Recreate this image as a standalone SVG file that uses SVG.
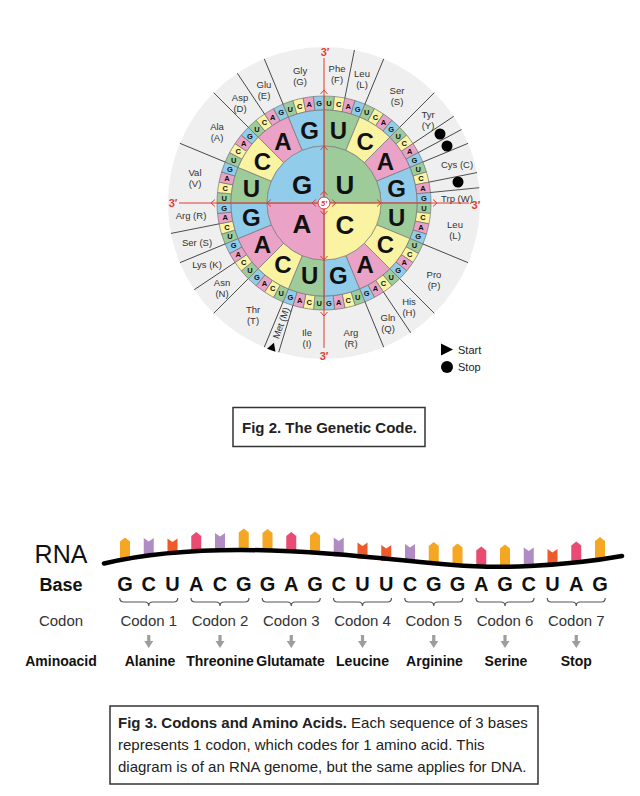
<svg xmlns="http://www.w3.org/2000/svg" width="640" height="796" viewBox="0 0 640 796">
<style>
text{font-family:"Liberation Sans",Arial,sans-serif}
.U{fill:#9dcb99}.C{fill:#faf3a2}.A{fill:#eaa3c6}.G{fill:#92cceb}
.cell{stroke:#6a6a6a;stroke-width:0.6}
.mid{stroke:#7a7a7a;stroke-width:0.7}
.sl{font-size:7.5px;font-weight:bold;fill:#111;text-anchor:middle}
.ml{font-size:24px;font-weight:bold;fill:#111;text-anchor:middle}
.il{font-size:26px;font-weight:bold;fill:#111;text-anchor:middle}
.aa{font-size:9.5px;fill:#333;text-anchor:middle}
.div{stroke:#333;stroke-width:0.8}
.red{stroke:#e23d33;stroke-width:1;fill:none}
.p3{font-size:11px;font-weight:bold;fill:#e23d33;text-anchor:middle}
.base{font-size:20px;font-weight:bold;fill:#111;text-anchor:middle}
.cod{font-size:15px;fill:#333;text-anchor:middle}
.amn{font-size:14px;font-weight:bold;fill:#111;text-anchor:middle}
.brace{fill:none;stroke:#555;stroke-width:1.2}
.arr{fill:#9d9d9d}
.box{fill:#fff;stroke:#333;stroke-width:1.5}
</style>
<defs>
<path id="sc" d="M0,-107 A107,107 0 0 1 10.488,-106.484 L9.116,-92.552 A93,93 0 0 0 0,-93 Z"/>
<path id="mc" d="M0,-93 A93,93 0 0 1 35.589,-85.921 L21.813,-52.661 A57,57 0 0 0 0,-57 Z"/>
<path id="ic" d="M0,0 L0,-57 A57,57 0 0 1 57,0 Z"/>
<path id="chev" class="red" d="M-3.5,4 L0,0 L3.5,4"/>
<line id="dl" class="div" x1="0" y1="-107" x2="0" y2="-156"/>
<path id="pG" fill="#f5a623" d="M-5,2 L-5,-17 L0,-21 L5,-17 L5,2 Z"/>
<path id="pA" fill="#e94b73" d="M-5,2 L-5,-15 L0,-19 L5,-15 L5,2 Z"/>
<path id="pC" fill="#b18bc4" d="M-5,2 L-5,-17 L0,-13.5 L5,-17 L5,2 Z"/>
<path id="pU" fill="#ee5a29" d="M-5,2 L-5,-14 L0,-10.5 L5,-14 L5,2 Z"/>
<path id="arrow" d="M-1.6,0 L1.6,0 L1.6,6 L4.5,6 L0,13 L-4.5,6 L-1.6,6 Z"/>
</defs>
<rect width="640" height="796" fill="#fff"/>

<g id="codon-wheel" transform="translate(324,203)">
<circle r="156" fill="#efefef"/>
<g id="ring-third">
<use href="#sc" class="U cell" transform="rotate(0)"/><use href="#sc" class="C cell" transform="rotate(5.625)"/><use href="#sc" class="A cell" transform="rotate(11.25)"/><use href="#sc" class="G cell" transform="rotate(16.875)"/>
<use href="#sc" class="U cell" transform="rotate(22.5)"/><use href="#sc" class="C cell" transform="rotate(28.125)"/><use href="#sc" class="A cell" transform="rotate(33.75)"/><use href="#sc" class="G cell" transform="rotate(39.375)"/>
<use href="#sc" class="U cell" transform="rotate(45)"/><use href="#sc" class="C cell" transform="rotate(50.625)"/><use href="#sc" class="A cell" transform="rotate(56.25)"/><use href="#sc" class="G cell" transform="rotate(61.875)"/>
<use href="#sc" class="U cell" transform="rotate(67.5)"/><use href="#sc" class="C cell" transform="rotate(73.125)"/><use href="#sc" class="A cell" transform="rotate(78.75)"/><use href="#sc" class="G cell" transform="rotate(84.375)"/>
<use href="#sc" class="U cell" transform="rotate(90)"/><use href="#sc" class="C cell" transform="rotate(95.625)"/><use href="#sc" class="A cell" transform="rotate(101.25)"/><use href="#sc" class="G cell" transform="rotate(106.875)"/>
<use href="#sc" class="U cell" transform="rotate(112.5)"/><use href="#sc" class="C cell" transform="rotate(118.125)"/><use href="#sc" class="A cell" transform="rotate(123.75)"/><use href="#sc" class="G cell" transform="rotate(129.375)"/>
<use href="#sc" class="U cell" transform="rotate(135)"/><use href="#sc" class="C cell" transform="rotate(140.625)"/><use href="#sc" class="A cell" transform="rotate(146.25)"/><use href="#sc" class="G cell" transform="rotate(151.875)"/>
<use href="#sc" class="U cell" transform="rotate(157.5)"/><use href="#sc" class="C cell" transform="rotate(163.125)"/><use href="#sc" class="A cell" transform="rotate(168.75)"/><use href="#sc" class="G cell" transform="rotate(174.375)"/>
<use href="#sc" class="U cell" transform="rotate(180)"/><use href="#sc" class="C cell" transform="rotate(185.625)"/><use href="#sc" class="A cell" transform="rotate(191.25)"/><use href="#sc" class="G cell" transform="rotate(196.875)"/>
<use href="#sc" class="U cell" transform="rotate(202.5)"/><use href="#sc" class="C cell" transform="rotate(208.125)"/><use href="#sc" class="A cell" transform="rotate(213.75)"/><use href="#sc" class="G cell" transform="rotate(219.375)"/>
<use href="#sc" class="U cell" transform="rotate(225)"/><use href="#sc" class="C cell" transform="rotate(230.625)"/><use href="#sc" class="A cell" transform="rotate(236.25)"/><use href="#sc" class="G cell" transform="rotate(241.875)"/>
<use href="#sc" class="U cell" transform="rotate(247.5)"/><use href="#sc" class="C cell" transform="rotate(253.125)"/><use href="#sc" class="A cell" transform="rotate(258.75)"/><use href="#sc" class="G cell" transform="rotate(264.375)"/>
<use href="#sc" class="U cell" transform="rotate(270)"/><use href="#sc" class="C cell" transform="rotate(275.625)"/><use href="#sc" class="A cell" transform="rotate(281.25)"/><use href="#sc" class="G cell" transform="rotate(286.875)"/>
<use href="#sc" class="U cell" transform="rotate(292.5)"/><use href="#sc" class="C cell" transform="rotate(298.125)"/><use href="#sc" class="A cell" transform="rotate(303.75)"/><use href="#sc" class="G cell" transform="rotate(309.375)"/>
<use href="#sc" class="U cell" transform="rotate(315)"/><use href="#sc" class="C cell" transform="rotate(320.625)"/><use href="#sc" class="A cell" transform="rotate(326.25)"/><use href="#sc" class="G cell" transform="rotate(331.875)"/>
<use href="#sc" class="U cell" transform="rotate(337.5)"/><use href="#sc" class="C cell" transform="rotate(343.125)"/><use href="#sc" class="A cell" transform="rotate(348.75)"/><use href="#sc" class="G cell" transform="rotate(354.375)"/>
</g>
<g id="ring-second">
<use href="#mc" class="U mid" transform="rotate(0)"/><use href="#mc" class="C mid" transform="rotate(22.5)"/><use href="#mc" class="A mid" transform="rotate(45)"/><use href="#mc" class="G mid" transform="rotate(67.5)"/>
<use href="#mc" class="U mid" transform="rotate(90)"/><use href="#mc" class="C mid" transform="rotate(112.5)"/><use href="#mc" class="A mid" transform="rotate(135)"/><use href="#mc" class="G mid" transform="rotate(157.5)"/>
<use href="#mc" class="U mid" transform="rotate(180)"/><use href="#mc" class="C mid" transform="rotate(202.5)"/><use href="#mc" class="A mid" transform="rotate(225)"/><use href="#mc" class="G mid" transform="rotate(247.5)"/>
<use href="#mc" class="U mid" transform="rotate(270)"/><use href="#mc" class="C mid" transform="rotate(292.5)"/><use href="#mc" class="A mid" transform="rotate(315)"/><use href="#mc" class="G mid" transform="rotate(337.5)"/>
</g>
<g id="ring-first">
<use href="#ic" class="U mid" transform="rotate(0)"/><use href="#ic" class="C mid" transform="rotate(90)"/><use href="#ic" class="A mid" transform="rotate(180)"/><use href="#ic" class="G mid" transform="rotate(270)"/>
</g>
<g id="third-letters">
<text class="sl" dy="2.7" transform="rotate(2.8125) translate(0,-100) rotate(-2.8125)">U</text>
<text class="sl" dy="2.7" transform="rotate(8.4375) translate(0,-100) rotate(-8.4375)">C</text>
<text class="sl" dy="2.7" transform="rotate(14.0625) translate(0,-100) rotate(-14.0625)">A</text>
<text class="sl" dy="2.7" transform="rotate(19.6875) translate(0,-100) rotate(-19.6875)">G</text>
<text class="sl" dy="2.7" transform="rotate(25.3125) translate(0,-100) rotate(-25.3125)">U</text>
<text class="sl" dy="2.7" transform="rotate(30.9375) translate(0,-100) rotate(-30.9375)">C</text>
<text class="sl" dy="2.7" transform="rotate(36.5625) translate(0,-100) rotate(-36.5625)">A</text>
<text class="sl" dy="2.7" transform="rotate(42.1875) translate(0,-100) rotate(-42.1875)">G</text>
<text class="sl" dy="2.7" transform="rotate(47.8125) translate(0,-100) rotate(-47.8125)">U</text>
<text class="sl" dy="2.7" transform="rotate(53.4375) translate(0,-100) rotate(-53.4375)">C</text>
<text class="sl" dy="2.7" transform="rotate(59.0625) translate(0,-100) rotate(-59.0625)">A</text>
<text class="sl" dy="2.7" transform="rotate(64.6875) translate(0,-100) rotate(-64.6875)">G</text>
<text class="sl" dy="2.7" transform="rotate(70.3125) translate(0,-100) rotate(-70.3125)">U</text>
<text class="sl" dy="2.7" transform="rotate(75.9375) translate(0,-100) rotate(-75.9375)">C</text>
<text class="sl" dy="2.7" transform="rotate(81.5625) translate(0,-100) rotate(-81.5625)">A</text>
<text class="sl" dy="2.7" transform="rotate(87.1875) translate(0,-100) rotate(-87.1875)">G</text>
<text class="sl" dy="2.7" transform="rotate(92.8125) translate(0,-100) rotate(-92.8125)">U</text>
<text class="sl" dy="2.7" transform="rotate(98.4375) translate(0,-100) rotate(-98.4375)">C</text>
<text class="sl" dy="2.7" transform="rotate(104.0625) translate(0,-100) rotate(-104.0625)">A</text>
<text class="sl" dy="2.7" transform="rotate(109.6875) translate(0,-100) rotate(-109.6875)">G</text>
<text class="sl" dy="2.7" transform="rotate(115.3125) translate(0,-100) rotate(-115.3125)">U</text>
<text class="sl" dy="2.7" transform="rotate(120.9375) translate(0,-100) rotate(-120.9375)">C</text>
<text class="sl" dy="2.7" transform="rotate(126.5625) translate(0,-100) rotate(-126.5625)">A</text>
<text class="sl" dy="2.7" transform="rotate(132.1875) translate(0,-100) rotate(-132.1875)">G</text>
<text class="sl" dy="2.7" transform="rotate(137.8125) translate(0,-100) rotate(-137.8125)">U</text>
<text class="sl" dy="2.7" transform="rotate(143.4375) translate(0,-100) rotate(-143.4375)">C</text>
<text class="sl" dy="2.7" transform="rotate(149.0625) translate(0,-100) rotate(-149.0625)">A</text>
<text class="sl" dy="2.7" transform="rotate(154.6875) translate(0,-100) rotate(-154.6875)">G</text>
<text class="sl" dy="2.7" transform="rotate(160.3125) translate(0,-100) rotate(-160.3125)">U</text>
<text class="sl" dy="2.7" transform="rotate(165.9375) translate(0,-100) rotate(-165.9375)">C</text>
<text class="sl" dy="2.7" transform="rotate(171.5625) translate(0,-100) rotate(-171.5625)">A</text>
<text class="sl" dy="2.7" transform="rotate(177.1875) translate(0,-100) rotate(-177.1875)">G</text>
<text class="sl" dy="2.7" transform="rotate(182.8125) translate(0,-100) rotate(-182.8125)">U</text>
<text class="sl" dy="2.7" transform="rotate(188.4375) translate(0,-100) rotate(-188.4375)">C</text>
<text class="sl" dy="2.7" transform="rotate(194.0625) translate(0,-100) rotate(-194.0625)">A</text>
<text class="sl" dy="2.7" transform="rotate(199.6875) translate(0,-100) rotate(-199.6875)">G</text>
<text class="sl" dy="2.7" transform="rotate(205.3125) translate(0,-100) rotate(-205.3125)">U</text>
<text class="sl" dy="2.7" transform="rotate(210.9375) translate(0,-100) rotate(-210.9375)">C</text>
<text class="sl" dy="2.7" transform="rotate(216.5625) translate(0,-100) rotate(-216.5625)">A</text>
<text class="sl" dy="2.7" transform="rotate(222.1875) translate(0,-100) rotate(-222.1875)">G</text>
<text class="sl" dy="2.7" transform="rotate(227.8125) translate(0,-100) rotate(-227.8125)">U</text>
<text class="sl" dy="2.7" transform="rotate(233.4375) translate(0,-100) rotate(-233.4375)">C</text>
<text class="sl" dy="2.7" transform="rotate(239.0625) translate(0,-100) rotate(-239.0625)">A</text>
<text class="sl" dy="2.7" transform="rotate(244.6875) translate(0,-100) rotate(-244.6875)">G</text>
<text class="sl" dy="2.7" transform="rotate(250.3125) translate(0,-100) rotate(-250.3125)">U</text>
<text class="sl" dy="2.7" transform="rotate(255.9375) translate(0,-100) rotate(-255.9375)">C</text>
<text class="sl" dy="2.7" transform="rotate(261.5625) translate(0,-100) rotate(-261.5625)">A</text>
<text class="sl" dy="2.7" transform="rotate(267.1875) translate(0,-100) rotate(-267.1875)">G</text>
<text class="sl" dy="2.7" transform="rotate(272.8125) translate(0,-100) rotate(-272.8125)">U</text>
<text class="sl" dy="2.7" transform="rotate(278.4375) translate(0,-100) rotate(-278.4375)">C</text>
<text class="sl" dy="2.7" transform="rotate(284.0625) translate(0,-100) rotate(-284.0625)">A</text>
<text class="sl" dy="2.7" transform="rotate(289.6875) translate(0,-100) rotate(-289.6875)">G</text>
<text class="sl" dy="2.7" transform="rotate(295.3125) translate(0,-100) rotate(-295.3125)">U</text>
<text class="sl" dy="2.7" transform="rotate(300.9375) translate(0,-100) rotate(-300.9375)">C</text>
<text class="sl" dy="2.7" transform="rotate(306.5625) translate(0,-100) rotate(-306.5625)">A</text>
<text class="sl" dy="2.7" transform="rotate(312.1875) translate(0,-100) rotate(-312.1875)">G</text>
<text class="sl" dy="2.7" transform="rotate(317.8125) translate(0,-100) rotate(-317.8125)">U</text>
<text class="sl" dy="2.7" transform="rotate(323.4375) translate(0,-100) rotate(-323.4375)">C</text>
<text class="sl" dy="2.7" transform="rotate(329.0625) translate(0,-100) rotate(-329.0625)">A</text>
<text class="sl" dy="2.7" transform="rotate(334.6875) translate(0,-100) rotate(-334.6875)">G</text>
<text class="sl" dy="2.7" transform="rotate(340.3125) translate(0,-100) rotate(-340.3125)">U</text>
<text class="sl" dy="2.7" transform="rotate(345.9375) translate(0,-100) rotate(-345.9375)">C</text>
<text class="sl" dy="2.7" transform="rotate(351.5625) translate(0,-100) rotate(-351.5625)">A</text>
<text class="sl" dy="2.7" transform="rotate(357.1875) translate(0,-100) rotate(-357.1875)">G</text>
</g>
<g id="second-letters">
<text class="ml" dy="8.5" transform="rotate(11.25) translate(0,-74) rotate(-11.25)">U</text>
<text class="ml" dy="8.5" transform="rotate(33.75) translate(0,-74) rotate(-33.75)">C</text>
<text class="ml" dy="8.5" transform="rotate(56.25) translate(0,-74) rotate(-56.25)">A</text>
<text class="ml" dy="8.5" transform="rotate(78.75) translate(0,-74) rotate(-78.75)">G</text>
<text class="ml" dy="8.5" transform="rotate(101.25) translate(0,-74) rotate(-101.25)">U</text>
<text class="ml" dy="8.5" transform="rotate(123.75) translate(0,-74) rotate(-123.75)">C</text>
<text class="ml" dy="8.5" transform="rotate(146.25) translate(0,-74) rotate(-146.25)">A</text>
<text class="ml" dy="8.5" transform="rotate(168.75) translate(0,-74) rotate(-168.75)">G</text>
<text class="ml" dy="8.5" transform="rotate(191.25) translate(0,-74) rotate(-191.25)">U</text>
<text class="ml" dy="8.5" transform="rotate(213.75) translate(0,-74) rotate(-213.75)">C</text>
<text class="ml" dy="8.5" transform="rotate(236.25) translate(0,-74) rotate(-236.25)">A</text>
<text class="ml" dy="8.5" transform="rotate(258.75) translate(0,-74) rotate(-258.75)">G</text>
<text class="ml" dy="8.5" transform="rotate(281.25) translate(0,-74) rotate(-281.25)">U</text>
<text class="ml" dy="8.5" transform="rotate(303.75) translate(0,-74) rotate(-303.75)">C</text>
<text class="ml" dy="8.5" transform="rotate(326.25) translate(0,-74) rotate(-326.25)">A</text>
<text class="ml" dy="8.5" transform="rotate(348.75) translate(0,-74) rotate(-348.75)">G</text>
</g>
<g id="first-letters">
<text class="il" x="21" y="-9">U</text>
<text class="il" x="21" y="31">C</text>
<text class="il" x="-22" y="30">A</text>
<text class="il" x="-22" y="-9">G</text>
</g>
<g id="dividers">
<use href="#dl" transform="rotate(11.25)"/><use href="#dl" transform="rotate(22.5)"/><use href="#dl" transform="rotate(45)"/>
<use href="#dl" transform="rotate(56.25)"/><use href="#dl" transform="rotate(61.875)"/><use href="#dl" transform="rotate(67.5)"/>
<use href="#dl" transform="rotate(78.75)"/><use href="#dl" transform="rotate(84.375)"/>
<use href="#dl" transform="rotate(112.5)"/><use href="#dl" transform="rotate(135)"/><use href="#dl" transform="rotate(146.25)"/><use href="#dl" transform="rotate(157.5)"/>
<use href="#dl" transform="rotate(196.875)"/><use href="#dl" transform="rotate(202.5)"/><use href="#dl" transform="rotate(225)"/>
<use href="#dl" transform="rotate(236.25)"/><use href="#dl" transform="rotate(247.5)"/><use href="#dl" transform="rotate(258.75)"/>
<use href="#dl" transform="rotate(292.5)"/><use href="#dl" transform="rotate(315)"/><use href="#dl" transform="rotate(326.25)"/><use href="#dl" transform="rotate(337.5)"/>
</g>
<g id="axes">
<line class="red" x1="0" y1="-145" x2="0" y2="145"/>
<line class="red" x1="-145" y1="0" x2="145" y2="0"/>
<use href="#chev" transform="rotate(0) translate(0,-12)"/><use href="#chev" transform="rotate(90) translate(0,-12)"/><use href="#chev" transform="rotate(180) translate(0,-12)"/><use href="#chev" transform="rotate(270) translate(0,-12)"/>
<use href="#chev" transform="rotate(0) translate(0,-57)"/><use href="#chev" transform="rotate(90) translate(0,-57)"/><use href="#chev" transform="rotate(180) translate(0,-57)"/><use href="#chev" transform="rotate(270) translate(0,-57)"/>
<use href="#chev" transform="rotate(0) translate(0,-113)"/><use href="#chev" transform="rotate(90) translate(0,-113)"/><use href="#chev" transform="rotate(180) translate(0,-113)"/><use href="#chev" transform="rotate(270) translate(0,-113)"/>
<circle r="6" fill="#fff" stroke="#e23d33" stroke-width="1"/>
<text x="0" y="2.6" font-size="7.5" font-weight="bold" font-style="italic" fill="#e23d33" text-anchor="middle">5′</text>
<text class="p3" x="1" y="-147">3′</text>
<text class="p3" x="0" y="157">3′</text>
<text class="p3" x="-151" y="4">3′</text>
<text class="p3" x="152" y="6">3′</text>
</g>
<g id="stops" fill="#000">
<circle cx="116" cy="-69" r="5.5"/>
<circle cx="123" cy="-57" r="5.5"/>
<circle cx="134" cy="-21" r="5.5"/>
</g>
<g id="met" transform="translate(-43,120) rotate(-70.3)">
<text class="aa" x="0" y="3.4">Met (M)</text>
<path d="M-29,-4.5 L-21,0 L-29,4.5 Z" fill="#000"/>
</g>
</g>

<g id="amino-labels">
<text class="aa" x="300" y="74.4">Gly</text><text class="aa" x="300" y="85.4">(G)</text>
<text class="aa" x="264" y="88.4">Glu</text><text class="aa" x="264" y="99.4">(E)</text>
<text class="aa" x="240" y="101.4">Asp</text><text class="aa" x="240" y="112.4">(D)</text>
<text class="aa" x="217" y="130.4">Ala</text><text class="aa" x="217" y="141.4">(A)</text>
<text class="aa" x="195" y="176.4">Val</text><text class="aa" x="195" y="187.4">(V)</text>
<text class="aa" x="191" y="219.4">Arg (R)</text>
<text class="aa" x="197" y="246.4">Ser (S)</text>
<text class="aa" x="207" y="268.4">Lys (K)</text>
<text class="aa" x="222" y="286.4">Asn</text><text class="aa" x="222" y="297.4">(N)</text>
<text class="aa" x="253" y="313.4">Thr</text><text class="aa" x="253" y="324.4">(T)</text>
<text class="aa" x="307" y="336.4">Ile</text><text class="aa" x="307" y="347.4">(I)</text>
<text class="aa" x="351" y="336.4">Arg</text><text class="aa" x="351" y="347.4">(R)</text>
<text class="aa" x="388" y="321.4">Gln</text><text class="aa" x="388" y="332.4">(Q)</text>
<text class="aa" x="409" y="305.4">His</text><text class="aa" x="409" y="316.4">(H)</text>
<text class="aa" x="434" y="278.4">Pro</text><text class="aa" x="434" y="289.4">(P)</text>
<text class="aa" x="455" y="228.4">Leu</text><text class="aa" x="455" y="239.4">(L)</text>
<text class="aa" x="457" y="202.4">Trp (W)</text>
<text class="aa" x="457" y="168.4">Cys (C)</text>
<text class="aa" x="428" y="118.4">Tyr</text><text class="aa" x="428" y="129.4">(Y)</text>
<text class="aa" x="397" y="94.4">Ser</text><text class="aa" x="397" y="105.4">(S)</text>
<text class="aa" x="362" y="77.4">Leu</text><text class="aa" x="362" y="88.4">(L)</text>
<text class="aa" x="337" y="72.4">Phe</text><text class="aa" x="337" y="83.4">(F)</text>
</g>

<g id="legend">
<path d="M441,343.5 L453,349.5 L441,355.5 Z" fill="#000"/>
<text x="458" y="353.5" font-size="11" fill="#222">Start</text>
<circle cx="447" cy="367" r="6" fill="#000"/>
<text x="458" y="371" font-size="11" fill="#222">Stop</text>
</g>

<g id="fig2-caption">
<rect class="box" x="233" y="407.5" width="192" height="39"/>
<text x="329.5" y="433" font-size="15" font-weight="bold" fill="#222" text-anchor="middle">Fig 2. The Genetic Code.</text>
</g>

<g id="rna-strip">
<g id="row-labels">
<text x="61" y="563" font-size="25" fill="#111" text-anchor="middle">RNA</text>
<text x="61" y="590.5" font-size="18" font-weight="bold" fill="#111" text-anchor="middle">Base</text>
<text class="cod" x="61" y="626">Codon</text>
<text class="amn" x="61" y="666">Aminoacid</text>
</g>
<g id="pegs">
<use href="#pG" x="125" y="558.5"/>
<use href="#pC" x="148.75" y="555"/>
<use href="#pU" x="172.5" y="552.5"/>
<use href="#pA" x="196.25" y="551"/>
<use href="#pC" x="220" y="550"/>
<use href="#pG" x="243.75" y="549.5"/>
<use href="#pG" x="267.5" y="550"/>
<use href="#pA" x="291.25" y="551"/>
<use href="#pG" x="315" y="552.5"/>
<use href="#pC" x="338.75" y="554.5"/>
<use href="#pU" x="362.5" y="556.5"/>
<use href="#pU" x="386.25" y="559"/>
<use href="#pC" x="410" y="561"/>
<use href="#pG" x="433.75" y="563"/>
<use href="#pG" x="457.5" y="564.5"/>
<use href="#pA" x="481.25" y="565.5"/>
<use href="#pG" x="505" y="565.5"/>
<use href="#pC" x="528.75" y="564.5"/>
<use href="#pU" x="552.5" y="563"/>
<use href="#pA" x="576.25" y="560.5"/>
<use href="#pG" x="600" y="558"/>
</g>
<path id="backbone" d="M104,563.5 C140,555 190,550 240,550 C300,550 360,556 420,562 C460,566 490,568 530,566 C570,564 600,560 622,556" fill="none" stroke="#000" stroke-width="4.5" stroke-linecap="round"/>
<g id="bases">
<text class="base" x="125" y="591">G</text><text class="base" x="148.75" y="591">C</text><text class="base" x="172.5" y="591">U</text>
<text class="base" x="196.25" y="591">A</text><text class="base" x="220" y="591">C</text><text class="base" x="243.75" y="591">G</text>
<text class="base" x="267.5" y="591">G</text><text class="base" x="291.25" y="591">A</text><text class="base" x="315" y="591">G</text>
<text class="base" x="338.75" y="591">C</text><text class="base" x="362.5" y="591">U</text><text class="base" x="386.25" y="591">U</text>
<text class="base" x="410" y="591">C</text><text class="base" x="433.75" y="591">G</text><text class="base" x="457.5" y="591">G</text>
<text class="base" x="481.25" y="591">A</text><text class="base" x="505" y="591">G</text><text class="base" x="528.75" y="591">C</text>
<text class="base" x="552.5" y="591">U</text><text class="base" x="576.25" y="591">A</text><text class="base" x="600" y="591">G</text>
</g>
<g id="braces">
<path class="brace" d="M119.75,598 q0,4 4,4 L144.75,602 q4,0 4,4 q0,-4 4,-4 L173.75,602 q4,0 4,-4"/>
<path class="brace" d="M191,598 q0,4 4,4 L216,602 q4,0 4,4 q0,-4 4,-4 L245,602 q4,0 4,-4"/>
<path class="brace" d="M262.25,598 q0,4 4,4 L287.25,602 q4,0 4,4 q0,-4 4,-4 L316.25,602 q4,0 4,-4"/>
<path class="brace" d="M333.5,598 q0,4 4,4 L358.5,602 q4,0 4,4 q0,-4 4,-4 L387.5,602 q4,0 4,-4"/>
<path class="brace" d="M404.75,598 q0,4 4,4 L429.75,602 q4,0 4,4 q0,-4 4,-4 L458.75,602 q4,0 4,-4"/>
<path class="brace" d="M476,598 q0,4 4,4 L501,602 q4,0 4,4 q0,-4 4,-4 L530,602 q4,0 4,-4"/>
<path class="brace" d="M547.25,598 q0,4 4,4 L572.25,602 q4,0 4,4 q0,-4 4,-4 L601.25,602 q4,0 4,-4"/>
</g>
<g id="codons">
<text class="cod" x="148.75" y="626">Codon 1</text>
<text class="cod" x="220" y="626">Codon 2</text>
<text class="cod" x="291.25" y="626">Codon 3</text>
<text class="cod" x="362.5" y="626">Codon 4</text>
<text class="cod" x="433.75" y="626">Codon 5</text>
<text class="cod" x="505" y="626">Codon 6</text>
<text class="cod" x="576.25" y="626">Codon 7</text>
</g>
<g id="connectors" class="arr">
<use href="#arrow" x="148.75" y="635"/>
<use href="#arrow" x="220" y="635"/>
<use href="#arrow" x="291.25" y="635"/>
<use href="#arrow" x="362.5" y="635"/>
<use href="#arrow" x="433.75" y="635"/>
<use href="#arrow" x="505" y="635"/>
<use href="#arrow" x="576.25" y="635"/>
</g>
<g id="amino-acids">
<text class="amn" x="150" y="666">Alanine</text>
<text class="amn" x="220" y="666">Threonine</text>
<text class="amn" x="290.5" y="666">Glutamate</text>
<text class="amn" x="362.5" y="666">Leucine</text>
<text class="amn" x="434.5" y="666">Arginine</text>
<text class="amn" x="506" y="666">Serine</text>
<text class="amn" x="576.25" y="666">Stop</text>
</g>
</g>

<g id="fig3-caption">
<rect class="box" x="110" y="706" width="428" height="78"/>
<text font-size="15" fill="#222">
<tspan x="118" y="728"><tspan font-weight="bold">Fig 3. Codons and Amino Acids.</tspan> Each sequence of 3 bases</tspan>
<tspan x="118" y="750">represents 1 codon, which codes for 1 amino acid. This</tspan>
<tspan x="118" y="772">diagram is of an RNA genome, but the same applies for DNA.</tspan>
</text>
</g>
</svg>
